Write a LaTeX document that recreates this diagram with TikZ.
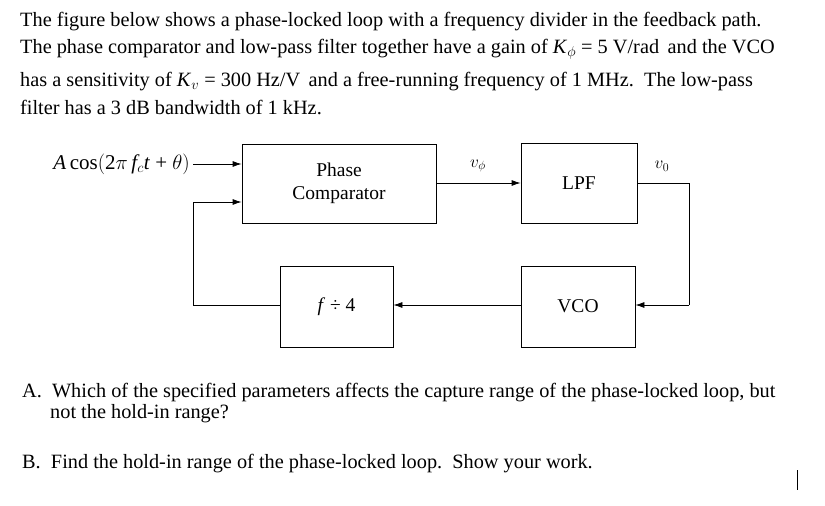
\documentclass[tikz,border=0pt]{standalone}
\usepackage{fontspec}
\setmainfont{Liberation Serif}
\usetikzlibrary{arrows.meta}
\begin{document}
\begin{tikzpicture}[x=1pt,y=-1pt,
  box/.style={draw,thick,inner sep=0pt,font=\fontsize{19.5}{23}\selectfont,align=center},
  txt/.style={anchor=base west,inner sep=0pt,font=\fontsize{20.3}{23}\selectfont},
  arr/.style={thick,-{Latex[length=9pt,width=6pt]}},
  ln/.style={thick}]
\useasboundingbox (0,0) rectangle (825,506);
\node[txt] (l1) at (20,26) {The figure below shows a phase-locked loop with a frequency divider in the feedback path.};
\node[txt] (l2) at (20,53) {The phase comparator and low-pass filter together have a gain of \textit{K}$_\phi$ = 5 V/rad\, and the VCO};
\node[txt] (l3) at (20,86) {has a sensitivity of \textit{K}$_v$ = 300 Hz/V\, and a free-running frequency of 1 MHz.\ \ The low-pass};
\node[txt] (l4) at (20,114) {filter has a 3 dB bandwidth of 1 kHz.};
\node[box,minimum width=194pt,minimum height=79pt] (pc) at (339,183.5) {Phase\\Comparator};
\node[box,minimum width=116pt,minimum height=80pt] (lpf) at (579,183) {LPF};
\node[box,minimum width=113pt,minimum height=81pt] (div) at (336.5,306.5) {\textit{f} ÷ 4};
\node[box,minimum width=114pt,minimum height=81pt] (vco) at (578,306.5) {VCO};
\node[anchor=east,inner sep=0pt,font=\fontsize{21}{24}\selectfont] (in) at (190,164) {\textit{A}\,cos$\bigl($2$\pi$\,\textit{f$_c$t} + $\theta\bigr)$};
\node[font=\fontsize{17}{20}\selectfont] (vp) at (478,166) {$v_\phi$};
\node[font=\fontsize{17}{20}\selectfont] (v0) at (662,166) {$v_0$};
\coordinate (a1) at (689,183);
\coordinate (a2) at (689,305);
\coordinate (b1) at (193,305);
\coordinate (b2) at (193,202);
\draw[arr] (in.east) ++(3,0) -- (pc.west |- in.east);
\draw[arr] (pc.east |- lpf) -- (lpf.west);
\draw[ln] (lpf.east) -- (a1) -- (a2);
\draw[arr] (a2) -- (vco.east |- a2);
\draw[arr] (vco.west |- a2) -- (div.east |- a2);
\draw[ln] (div.west |- b1) -- (b1) -- (b2);
\draw[arr] (b2) -- (pc.west |- b2);
\node[txt] (qa) at (22,397) {A.\ \ Which of the specified parameters affects the capture range of the phase-locked loop, but};
\node[txt] (qa2) at (50,418) {not the hold-in range?};
\node[txt] (qb) at (22,468) {B.\ \ Find the hold-in range of the phase-locked loop.\ \ Show your work.};
\draw (797,470) -- (797,490);
\end{tikzpicture}
\end{document}
